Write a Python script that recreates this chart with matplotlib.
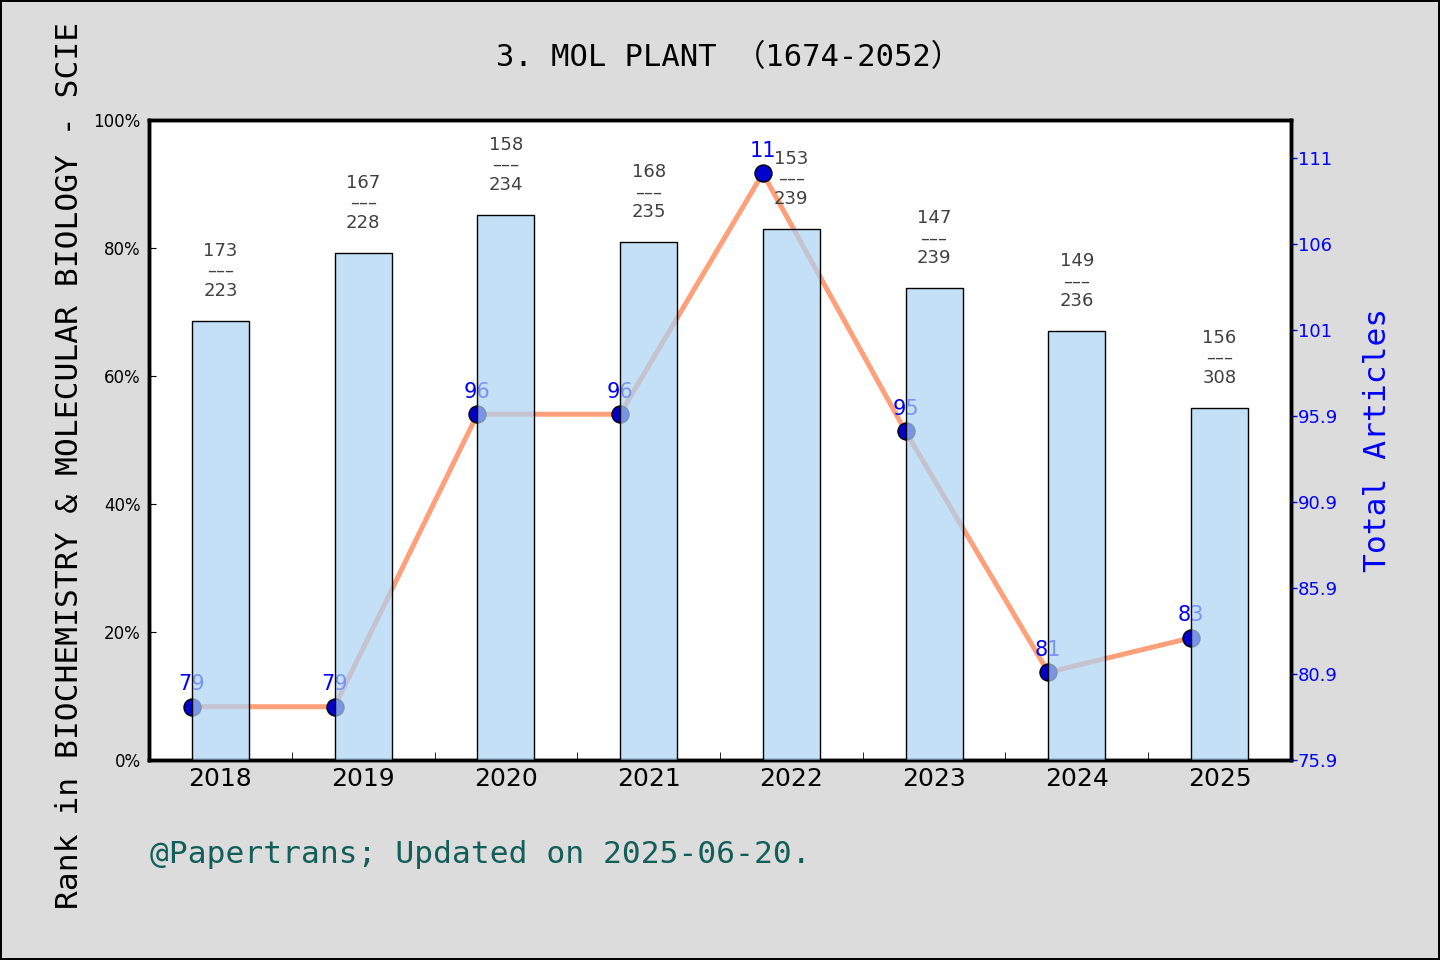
import matplotlib.pyplot as plt
from matplotlib.ticker import FuncFormatter

years = ['2018', '2019', '2020', '2021', '2022', '2023', '2024', '2025']
rank_pct = [68.6, 79.2, 85.2, 80.9, 83.0, 73.7, 67.0, 55.0]
ranks = [173, 167, 158, 168, 153, 147, 149, 156]
totals = [223, 228, 234, 235, 239, 239, 236, 308]
articles = [79, 79, 96, 96, 110, 95, 81, 83]
right_ticks = [75.9, 80.9, 85.9, 90.9, 95.9, 100.9, 105.9, 110.9]

mono = ['DejaVu Sans Mono', 'Noto Sans CJK SC']

fig = plt.figure(figsize=(14.4, 9.6), dpi=100, facecolor='#dcdcdc',
                 edgecolor='black', linewidth=1.5)
ax = fig.add_axes([0.1035, 0.2083, 0.793, 0.6667])
ax2 = ax.twinx()

x = list(range(len(years)))
xp = [i - 0.2 for i in x]

# line + points on the right axis (drawn under the bars)
ax2.plot(xp, articles, color='#ffa07a', lw=3.6, zorder=1)
ax2.scatter(xp, articles, s=150, color='#0000cd', edgecolor='black', lw=1, zorder=2)
for xi, v in zip(xp, articles):
    # the reference only shows the first two digits
    ax2.annotate(str(v)[:2], (xi, v), xytext=(0, 9), textcoords='offset points',
                 ha='center', va='bottom', fontsize=15, color='blue', zorder=3)
ax2.set_ylim(75.9, 113.1)
ax2.set_yticks(right_ticks)
ax2.yaxis.set_major_formatter(FuncFormatter(lambda v, p: '%.3g' % v))
ax2.tick_params(axis='y', colors='blue', labelsize=13, length=4, width=1, pad=1)
ax2.set_ylabel('Total Articles', color='blue', fontsize=22.5, family=mono, labelpad=18)

# bars on top with some transparency
ax3 = ax.twinx()
ax3.set_ylim(0, 100)
ax3.bar(x, rank_pct, width=0.4, color='#acd3f4', alpha=0.7, edgecolor='none', zorder=3)
ax3.bar(x, rank_pct, width=0.4, fill=False, edgecolor='black', lw=1, zorder=4)
for xi, h, r, t in zip(x, rank_pct, ranks, totals):
    ax3.annotate(f'{r}\n–––\n{t}', (xi, h), xytext=(0, 15), textcoords='offset points',
                 ha='center', va='bottom', fontsize=13, color='#404040',
                 linespacing=1.15)
ax3.axis('off')

ax.set_xlim(-0.5, 7.5)
ax2.set_xlim(-0.5, 7.5)
ax3.set_xlim(-0.5, 7.5)
ax.set_ylim(0, 100)
ax.set_yticks([0, 20, 40, 60, 80, 100])
ax.yaxis.set_major_formatter(FuncFormatter(lambda v, p: f'{v:.0f}%'))
ax.tick_params(axis='y', direction='in', length=5, labelsize=12, pad=6)
ax.set_xticks(x)
ax.set_xticklabels(years)
ax.set_xticks([i + 0.5 for i in x[:-1]], minor=True)
ax.tick_params(axis='x', which='major', length=0, labelsize=18, pad=5)
ax.tick_params(axis='x', which='minor', direction='in', length=6)
ax.set_ylabel('Rank in BIOCHEMISTRY & MOLECULAR BIOLOGY - SCIE', fontsize=22.5,
              family=mono)
ax.yaxis.set_label_coords(-0.057, 0.461)

for a in (ax, ax2):
    for s in a.spines.values():
        s.set_linewidth(2.5)

fig.text(0.506, 0.94, '3. MOL PLANT （1674-2052）', ha='center', va='center',
         fontsize=22, family=mono)
fig.text(0.104, 0.11, '@Papertrans; Updated on 2025-06-20.', ha='left', va='center',
         fontsize=22.5, family=mono, color='#125e58')

fig.savefig('out.png', dpi=100, facecolor=fig.get_facecolor(), edgecolor='black')
